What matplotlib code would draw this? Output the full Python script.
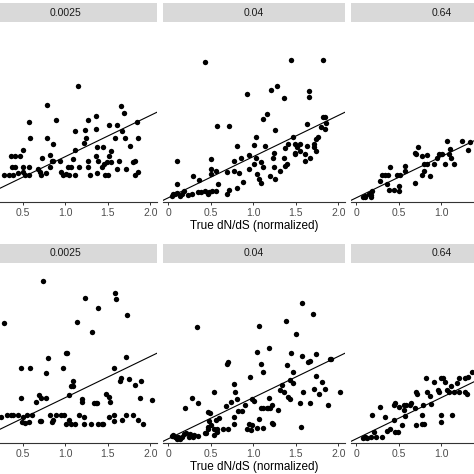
import matplotlib
matplotlib.use("Agg")
import matplotlib.pyplot as plt
import numpy as np

plt.rcParams["font.family"] = ["Liberation Sans", "DejaVu Sans"]

facet_labels = ["0.0025", "0.04", "0.64"]
x_label = "True dN/dS (normalized)"
x_ticks = [0, 0.5, 1.0, 1.5, 2.0]
x_tick_labels = ["0", "0.5", "1.0", "1.5", "2.0"]
line_slope = 1.0
line_intercept = 0.0

# top row, (true, estimated) pairs
top_0025 = [(1.15, 2.72), (0.79, 2.26), (0.57, 1.85), (0.89, 1.89), (0.59, 1.46), (0.79, 1.46), (0.86, 1.31),
            (0.50, 1.17), (0.36, 1.02), (0.41, 1.02), (0.47, 1.02), (0.82, 1.05), (0.73, 0.98), (0.86, 0.90),
            (0.84, 0.90), (0.94, 0.90), (0.37, 0.74), (0.41, 0.74), (0.51, 0.74), (0.57, 0.74), (0.68, 0.70),
            (0.82, 0.74), (0.28, 0.56), (0.34, 0.56), (0.39, 0.56), (0.45, 0.60), (0.51, 0.62), (0.53, 0.56),
            (0.57, 0.56), (0.70, 0.62), (0.72, 0.56), (0.78, 0.60), (0.95, 0.62), (0.97, 0.56), (1.01, 0.57),
            (1.03, 0.74), (1.05, 0.56), (1.07, 0.74), (1.12, 0.56), (1.16, 0.74), (1.11, 1.17), (1.09, 0.94),
            (1.11, 1.62), (1.23, 1.65), (1.25, 1.46), (1.22, 1.33), (1.27, 1.89), (1.36, 2.00), (1.36, 1.67),
            (1.27, 0.90), (1.27, 0.74), (1.29, 0.56), (1.37, 1.23), (1.45, 1.23), (1.36, 1.02), (1.39, 0.90),
            (1.37, 0.60), (1.43, 0.74), (1.46, 0.83), (1.49, 0.88), (1.51, 1.02), (1.47, 0.56), (1.50, 0.56),
            (1.51, 1.78), (1.54, 1.14), (1.54, 0.86), (1.59, 1.46), (1.61, 1.78), (1.61, 0.70), (1.63, 0.90),
            (1.66, 2.23), (1.69, 2.05), (1.67, 1.62), (1.70, 1.46), (1.72, 0.70), (1.76, 1.27), (1.80, 0.86),
            (1.82, 0.90), (1.82, 0.56), (1.86, 0.62), (1.85, 1.85), (1.86, 1.46)]

top_04 = [(0.43, 3.29), (1.44, 3.34), (1.82, 3.34), (0.93, 2.52), (1.21, 2.61), (1.28, 2.71), (1.36, 2.42),
          (1.66, 2.60), (1.66, 2.44), (1.12, 1.92), (1.16, 2.03), (0.57, 1.75), (0.72, 1.74), (1.26, 1.65),
          (1.82, 1.97), (1.85, 1.97), (1.86, 1.82), (1.84, 1.67), (1.63, 1.79), (1.03, 1.49), (1.01, 1.28),
          (1.14, 1.27), (0.81, 1.25), (1.47, 1.47), (1.49, 1.31), (1.51, 1.23), (1.55, 1.31), (1.49, 1.10),
          (1.49, 1.06), (1.61, 1.06), (1.55, 1.14), (1.63, 1.27), (1.71, 1.31), (1.76, 1.49), (1.74, 1.43),
          (1.72, 1.23), (1.74, 1.14), (1.67, 0.98), (1.61, 0.90), (1.80, 1.71), (1.37, 1.20), (1.41, 1.31),
          (1.36, 0.98), (1.40, 0.82), (1.38, 0.78), (1.24, 1.10), (1.23, 0.98), (1.25, 0.74), (1.32, 0.66),
          (1.20, 0.53), (1.26, 0.45), (0.78, 0.90), (0.86, 0.98), (0.95, 1.05), (1.01, 0.82), (1.03, 0.98),
          (1.09, 0.88), (1.12, 0.74), (1.05, 0.59), (1.07, 0.45), (1.09, 0.35), (0.95, 0.70), (0.83, 0.60),
          (0.78, 0.66), (0.69, 0.64), (0.88, 0.39), (0.81, 0.25), (0.50, 0.94), (0.50, 0.70), (0.56, 0.66),
          (0.50, 0.57), (0.59, 0.33), (0.69, 0.10), (0.72, 0.18), (0.56, 0.17), (0.52, 0.17), (0.48, 0.15),
          (0.47, 0.10), (0.43, 0.17), (0.39, 0.14), (0.35, 0.15), (0.36, 0.43), (0.29, 0.52), (0.28, 0.09),
          (0.23, 0.06), (0.19, 0.17), (0.16, 0.10), (0.14, 0.05), (0.10, 0.13), (0.06, 0.10), (0.04, 0.05),
          (0.10, 0.90), (0.10, 0.34), (0.08, 0.09)]

top_64 = [(1.07, 1.37), (1.24, 1.37), (1.34, 1.35), (1.32, 1.16), (0.73, 1.23), (0.69, 1.10), (0.71, 1.06),
          (0.83, 1.05), (0.77, 1.02), (0.97, 1.06), (1.01, 1.06), (0.95, 0.98), (1.10, 1.18), (1.09, 1.06),
          (1.12, 0.97), (1.05, 0.82), (1.15, 0.82), (0.80, 0.82), (0.83, 0.82), (0.92, 0.82), (0.80, 0.66),
          (0.87, 0.53), (0.77, 0.56), (0.69, 0.36), (0.57, 0.78), (0.57, 0.66), (0.48, 0.56), (0.52, 0.56),
          (0.40, 0.76), (0.30, 0.56), (0.34, 0.56), (0.37, 0.56), (0.28, 0.41), (0.36, 0.33), (0.39, 0.18),
          (0.44, 0.18), (0.50, 0.29), (0.51, 0.17), (0.19, 0.17), (0.15, 0.09), (0.10, 0.05), (0.11, 0.02),
          (0.08, 0.02), (0.17, 0.02), (0.18, 0.07)]

# bottom row
bot_0025 = [(0.74, 3.84), (0.28, 2.82), (1.23, 3.42), (1.59, 3.53), (1.60, 3.39), (1.39, 3.17), (1.73, 3.01),
            (1.14, 2.83), (1.31, 2.59), (1.01, 2.09), (1.02, 2.09), (0.80, 1.97), (0.48, 1.71), (0.59, 1.71),
            (0.78, 1.61), (0.97, 1.71), (1.71, 1.98), (1.57, 1.71), (1.66, 1.47), (1.65, 1.41), (1.75, 1.45),
            (1.82, 1.30), (1.89, 1.41), (1.88, 1.00), (2.02, 0.94), (1.09, 1.41), (1.07, 1.28), (1.09, 1.28),
            (1.05, 1.06), (0.69, 1.06), (0.72, 1.00), (0.78, 1.00), (0.66, 0.90), (0.48, 0.99), (1.20, 0.96),
            (1.20, 0.90), (1.34, 0.88), (1.36, 0.88), (1.37, 0.88), (1.48, 1.08), (1.51, 1.02), (1.53, 0.90),
            (0.24, 0.53), (0.32, 0.57), (0.36, 0.57), (0.39, 0.57), (0.45, 0.57), (0.51, 0.53), (0.55, 0.57),
            (0.61, 0.57), (0.49, 0.41), (0.53, 0.39), (0.57, 0.41), (0.70, 0.43), (0.72, 0.43), (0.82, 0.57),
            (0.84, 0.41), (0.86, 0.45), (0.89, 0.57), (0.95, 0.57), (0.99, 0.57), (1.01, 0.37), (1.05, 0.45),
            (1.07, 0.37), (1.11, 0.37), (1.16, 0.57), (1.22, 0.53), (1.22, 0.37), (1.30, 0.37), (1.39, 0.37),
            (1.43, 0.37), (1.45, 0.37), (1.51, 0.53), (1.57, 0.57), (1.57, 0.43), (1.72, 0.57), (1.67, 0.45),
            (1.80, 0.57), (1.86, 0.47), (1.91, 0.35)]

bot_04 = [(1.58, 3.30), (1.70, 3.04), (0.34, 2.72), (1.07, 2.75), (1.39, 2.87), (1.50, 2.54), (1.19, 2.20),
          (1.04, 2.10), (0.70, 1.86), (0.69, 1.81), (1.09, 1.83), (1.11, 1.63), (1.45, 2.09), (1.40, 1.79),
          (1.57, 2.02), (1.74, 2.06), (1.65, 1.87), (1.67, 1.90), (1.90, 1.93), (1.92, 1.93), (1.47, 1.63),
          (1.43, 1.43), (1.36, 1.14), (1.34, 1.30), (1.32, 1.18), (1.47, 1.36), (1.59, 1.14), (1.74, 1.53),
          (1.81, 1.39), (1.78, 1.10), (1.72, 1.22), (1.85, 1.21), (1.88, 0.82), (2.02, 1.13), (1.55, 0.86),
          (1.67, 0.86), (1.41, 1.02), (1.43, 0.96), (0.96, 1.51), (0.78, 1.33), (0.79, 1.13), (0.81, 0.96),
          (0.74, 0.90), (0.68, 0.80), (0.99, 0.98), (1.01, 0.92), (1.19, 1.00), (1.22, 0.83), (1.29, 0.69),
          (1.20, 0.75), (0.54, 1.13), (0.28, 1.00), (0.35, 0.86), (0.20, 0.76), (0.47, 0.65), (0.49, 0.63),
          (0.60, 0.51), (0.78, 0.53), (0.82, 0.67), (0.87, 0.67), (0.91, 0.82), (0.95, 0.37), (0.97, 0.22),
          (0.99, 0.33), (1.05, 0.26), (1.07, 0.49), (1.09, 0.74), (1.12, 0.74), (1.16, 0.74), (1.12, 0.26),
          (1.18, 0.74), (1.22, 0.39), (1.23, 0.35), (1.56, 0.29), (0.56, 0.47), (0.48, 0.43), (0.50, 0.33),
          (0.47, 0.30), (0.54, 0.25), (0.57, 0.25), (0.58, 0.17), (0.54, 0.10), (0.45, 0.15), (0.43, 0.15),
          (0.47, 0.25), (0.31, 0.09), (0.26, 0.11), (0.21, 0.15), (0.25, 0.04), (0.29, 0.04), (0.35, 0.06),
          (0.16, 0.04), (0.12, 0.04), (0.08, 0.04), (0.06, 0.09), (0.04, 0.07), (0.10, 0.00), (0.14, 0.00),
          (0.19, 0.11), (0.65, 0.25), (0.71, 0.25), (0.78, 0.35), (0.93, 0.25)]

bot_64 = [(1.36, 1.63), (1.32, 1.51), (1.28, 1.47), (1.21, 1.48), (1.19, 1.35), (1.11, 1.29), (1.05, 1.39),
          (1.02, 1.47), (1.00, 1.47), (1.07, 1.18), (1.15, 1.14), (1.09, 1.13), (1.21, 1.14), (1.30, 1.08),
          (1.28, 1.14), (0.82, 1.47), (0.92, 1.37), (0.87, 1.04), (0.96, 1.18), (0.98, 1.14), (1.00, 0.41),
          (1.00, 0.57), (1.13, 0.57), (0.70, 1.14), (0.72, 1.10), (0.83, 1.14), (0.79, 0.82), (0.77, 0.57),
          (0.65, 0.86), (0.59, 0.82), (0.63, 0.82), (0.56, 0.82), (0.50, 0.78), (0.46, 0.86), (0.44, 0.82),
          (0.56, 0.69), (0.57, 0.55), (0.77, 0.37), (0.80, 0.35), (0.71, 0.33), (0.28, 0.78), (0.19, 0.57),
          (0.34, 0.53), (0.44, 0.45), (0.40, 0.23), (0.36, 0.18), (0.46, 0.17), (0.49, 0.17), (0.54, 0.33),
          (0.69, 0.75), (0.88, 0.84), (0.21, 0.17), (0.17, 0.04), (0.10, 0.04), (0.08, 0.02), (0.23, 0.04),
          (0.31, 0.04), (0.13, 0.02), (0.11, 0.04)]

rows = [[top_0025, top_04, top_64], [bot_0025, bot_04, bot_64]]

W = 474.0
fig = plt.figure(figsize=(4.74, 4.74), dpi=100)

panel_left = [-25, 163, 351]
panel_w = 182
row_top = [22, 263]
panel_h = 180
strip_h = 19

axes = []
for r, row in enumerate(rows):
    for c, pts in enumerate(row):
        x0 = panel_left[c]
        y0 = row_top[r]
        ax = fig.add_axes([x0 / W, 1 - (y0 + panel_h) / W, panel_w / W, panel_h / W])
        axes.append(ax)
        pts = np.array(pts)
        ax.scatter(pts[:, 0], pts[:, 1], s=15, color="black", linewidths=0, zorder=3)
        ax.axline((0, line_intercept), slope=line_slope, color="black", lw=0.8, zorder=2)
        ax.set_xlim(-0.06, 2.08)
        ax.set_ylim(-0.1, 4.27)
        ax.set_xticks(x_ticks)
        ax.set_xticklabels(x_tick_labels)
        ax.set_yticks([])
        for s in ["top", "right", "left"]:
            ax.spines[s].set_visible(False)
        ax.spines["bottom"].set_color("#333333")
        ax.spines["bottom"].set_linewidth(0.8)
        ax.tick_params(axis="x", length=2.5, width=0.7, color="#333333",
                       labelsize=7.5, labelcolor="#4D4D4D", pad=2)
        if c == 1:
            ax.set_xlabel(x_label, fontsize=8.5, labelpad=1)

        sax = fig.add_axes([x0 / W, 1 - (y0) / W, panel_w / W, strip_h / W])
        sax.set_facecolor("#D9D9D9")
        sax.set_xticks([])
        sax.set_yticks([])
        for s in sax.spines.values():
            s.set_visible(False)
        sax.text(0.5, 0.5, facet_labels[c], ha="center", va="center",
                 fontsize=7.5, color="#1A1A1A", transform=sax.transAxes)

# tick labels that fall entirely off the cropped canvas are dropped
fig.canvas.draw()
renderer = fig.canvas.get_renderer()
for ax in axes:
    for lab in ax.get_xticklabels():
        bb = lab.get_window_extent(renderer)
        if bb.x1 > fig.bbox.width or bb.x0 < 0:
            lab.set_visible(False)

fig.savefig("out.png", dpi=100)
